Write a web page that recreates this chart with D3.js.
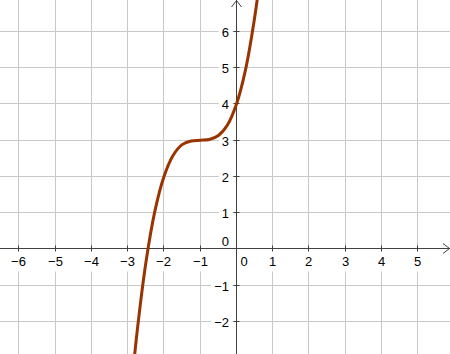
<!DOCTYPE html>
<html>
<head>
<meta charset="utf-8">
<script src="https://cdn.jsdelivr.net/npm/d3@7"></script>
<style>
  html, body { margin: 0; padding: 0; background: #fff; }
  svg { display: block; }
  text { font-family: "Liberation Sans", Arial, sans-serif; font-size: 13px; fill: #000; }
</style>
</head>
<body>
<div id="chart"></div>
<script>
// Constants
const width = 450;
const height = 354;

// Data
const curveX = [-2.9, -2.75, -2.5, -2.25, -2, -1.75, -1.5, -1.25, -1, -0.75, -0.5, -0.25, 0, 0.25, 0.5, 0.65];
const curveY = [-3.86, -2.36, -0.38, 1.05, 2.0, 2.58, 2.88, 2.98, 3.0, 3.02, 3.13, 3.42, 4.0, 4.95, 6.38, 7.49];
const xTicks = [-6, -5, -4, -3, -2, -1, 0, 1, 2, 3, 4, 5];
const yTicks = [-2, -1, 0, 1, 2, 3, 4, 5, 6];

// Scales
const x = d3.scaleLinear().domain([-6.524, 5.890]).range([0, width]);
const y = d3.scaleLinear().domain([-2.897, 6.869]).range([height, 0]);
const crisp = v => Math.floor(v) + 0.5;

const svg = d3.select("#chart").append("svg")
  .attr("width", width)
  .attr("height", height);

// Grid
const gridColor = "#c8c8c8";
svg.append("g").selectAll("line")
  .data(d3.range(-6, 6))
  .enter().append("line")
  .attr("x1", d => crisp(x(d))).attr("x2", d => crisp(x(d)))
  .attr("y1", 0).attr("y2", height)
  .style("stroke", gridColor);

svg.append("g").selectAll("line")
  .data(d3.range(-2, 7))
  .enter().append("line")
  .attr("y1", d => crisp(y(d))).attr("y2", d => crisp(y(d)))
  .attr("x1", 0).attr("x2", width)
  .style("stroke", gridColor);

// Curve
svg.append("defs").append("clipPath").attr("id", "clip")
  .append("rect").attr("width", width).attr("height", height);

const pts = curveX.map((v, i) => [v, curveY[i]]);
const line = d3.line()
  .x(d => x(d[0]))
  .y(d => y(d[1]))
  .curve(d3.curveCatmullRom.alpha(0.5));

// Axes
const axisColor = "#404040";
const ax = crisp(x(0));
const ay = crisp(y(0));

// label backgrounds + labels
const labels = svg.append("g");

xTicks.forEach(t => {
  const px = crisp(x(t));
  const txt = t < 0 ? "\u2212" + Math.abs(t) : String(t);
  const anchor = t === 0 ? "start" : "middle";
  const tx = t === 0 ? ax + 4 : px;
  const el = labels.append("text")
    .attr("x", tx).attr("y", ay + 17.5)
    .attr("text-anchor", anchor)
    .text(txt);
  const bb = el.node().getBBox();
  labels.insert("rect", "text")
    .attr("x", bb.x - 2).attr("y", ay + 2)
    .attr("width", bb.width + 4).attr("height", 21)
    .style("fill", "#fff");
});

yTicks.forEach(t => {
  const py = crisp(y(t));
  const txt = t < 0 ? "\u2212" + Math.abs(t) : String(t);
  const el = labels.append("text")
    .attr("x", ax - 7.5)
    .attr("y", t === 0 ? ay - 3 : py + 5)
    .attr("text-anchor", "end")
    .text(txt);
  const bb = el.node().getBBox();
  if (t !== 0) {
    labels.insert("rect", "text")
      .attr("x", bb.x - 3).attr("y", py - 8)
      .attr("width", ax - 4 - (bb.x - 3)).attr("height", 17)
      .style("fill", "#fff");
  }
});

const axes = svg.append("g").style("stroke", axisColor).style("fill", "none");
axes.append("line")
  .attr("x1", 0).attr("x2", width).attr("y1", ay).attr("y2", ay);
axes.append("line")
  .attr("x1", ax).attr("x2", ax).attr("y1", 0).attr("y2", height);

// ticks
axes.selectAll(".xt").data(xTicks.filter(d => d !== 0)).enter().append("line")
  .attr("x1", d => crisp(x(d))).attr("x2", d => crisp(x(d)))
  .attr("y1", ay - 3).attr("y2", ay + 3);
axes.selectAll(".yt").data(yTicks.filter(d => d !== 0)).enter().append("line")
  .attr("y1", d => crisp(y(d))).attr("y2", d => crisp(y(d)))
  .attr("x1", ax - 3).attr("x2", ax + 3);

// arrows
axes.append("path")
  .attr("d", `M${width - 7},${ay - 5}L${width - 0.5},${ay}L${width - 7},${ay + 5}`);
axes.append("path")
  .attr("d", `M${ax - 5},7L${ax},0.5L${ax + 5},7`);

svg.append("path")
  .datum(pts)
  .attr("clip-path", "url(#clip)")
  .attr("d", line)
  .style("fill", "none")
  .style("stroke", "#993300")
  .style("stroke-width", 3)
  .style("stroke-linecap", "round");
</script>
</body>
</html>
